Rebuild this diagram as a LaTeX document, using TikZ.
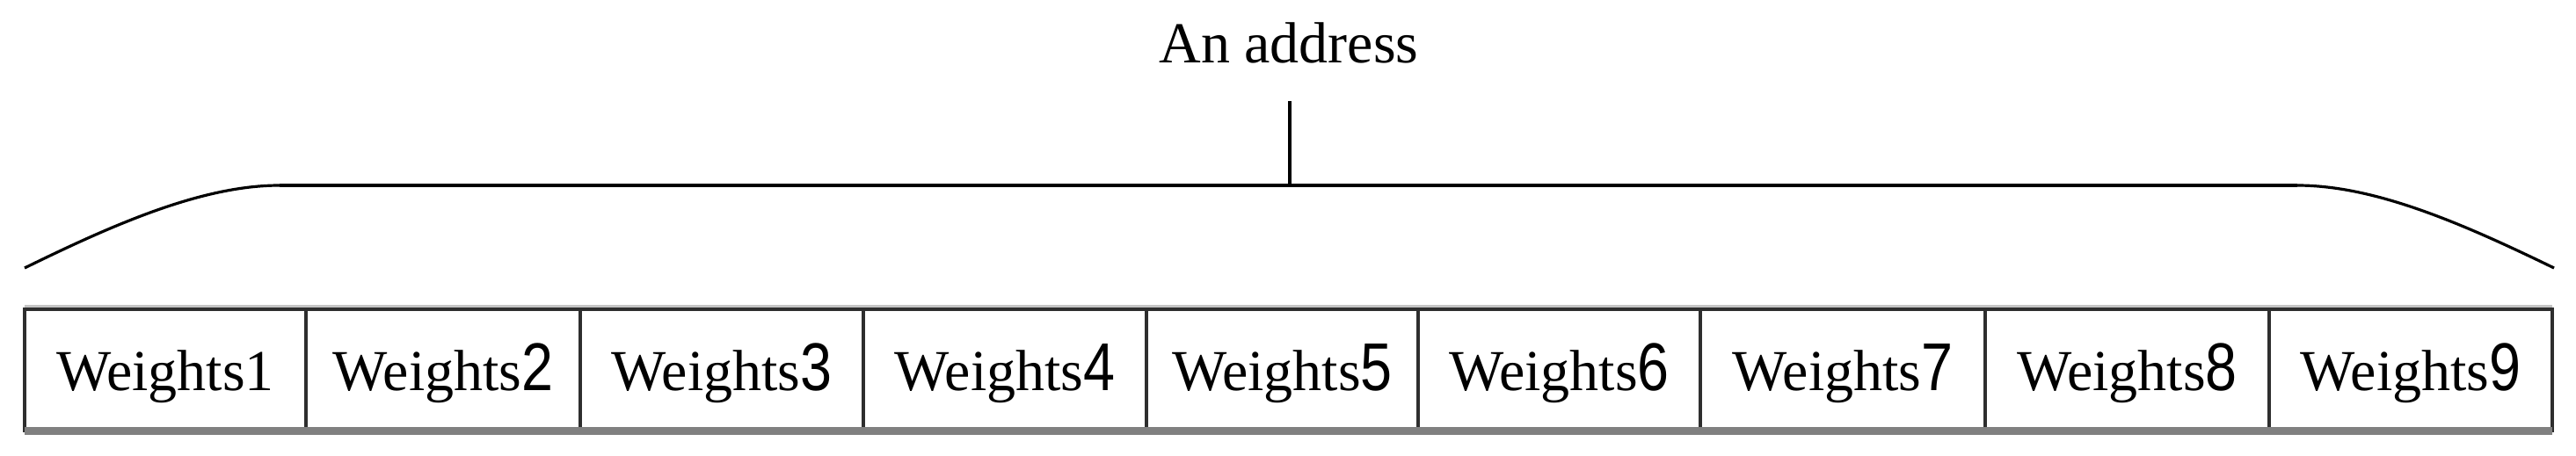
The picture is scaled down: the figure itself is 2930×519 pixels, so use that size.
\documentclass[tikz,border=0pt]{standalone}
\usepackage{fontspec}
\usepackage{graphicx}
\setmainfont{Liberation Serif}
\newfontfamily\digitfont{Liberation Sans}
\newcommand\wdigit[1]{\scalebox{0.84}[1]{\digitfont\fontsize{38.5}{40}\selectfont #1}}
\definecolor{boxdark}{HTML}{2E2E2E}
\definecolor{boxgray}{HTML}{808080}
\definecolor{boxlight}{HTML}{C4C4C4}
\begin{document}
\begin{tikzpicture}[x=0.5pt,y=-0.5pt,
  cell/.style={draw=boxdark, line width=2.2pt, inner sep=0pt, outer sep=0pt,
    text height=46pt, text depth=23pt, minimum width=#1, anchor=base,
    font=\fontsize{33}{40}\selectfont},
  brace/.style={line width=1.6pt, black},
  stem/.style={line width=2pt, black},
  title/.style={anchor=base, inner sep=0pt, font=\fontsize{33}{40}\selectfont}]
\useasboundingbox (0,0) rectangle (2930,519);
\fill[white] (0,0) rectangle (2930,519);
% title
\node[title] (title) at (1466,72) {An address};
% brace
\coordinate (bl) at (28,305);
\coordinate (bla) at (318,211);
\coordinate (bra) at (2613,211);
\coordinate (br) at (2905,305);
\coordinate (stemtop) at (1467,115);
\coordinate (stembot) at (1467,211);
\draw[brace] (bl) .. controls (130,255) and (230,211) .. (bla);
\draw[brace] (bra) .. controls (2702,211) and (2802,255) .. (br);
\draw[stem] (bla) -- (bra);
\draw[stem] (stemtop) -- (stembot);
% light strip above the cells
\draw[boxlight, line width=1.5pt] (28,348) -- (2903,348);
% cells
\node[cell=160pt] (b1) at (188,444) {Weights1};
\node[cell=156pt] (b2) at (504,444) {Weights\wdigit{2}};
\node[cell=161pt] (b3) at (821,444) {Weights\wdigit{3}};
\node[cell=161pt] (b4) at (1143,444) {Weights\wdigit{4}};
\node[cell=154.5pt] (b5) at (1458.5,444) {Weights\wdigit{5}};
\node[cell=160.5pt] (b6) at (1773.5,444) {Weights\wdigit{6}};
\node[cell=162pt] (b7) at (2096,444) {Weights\wdigit{7}};
\node[cell=161.5pt] (b8) at (2419.5,444) {Weights\wdigit{8}};
\node[cell=161pt] (b9) at (2742,444) {Weights\wdigit{9}};
% grey bottom edge
\draw[boxgray, line width=4.5pt] ([yshift=-0.3pt]b1.south west) -- ([yshift=-0.3pt]b9.south east);
\end{tikzpicture}
\end{document}
